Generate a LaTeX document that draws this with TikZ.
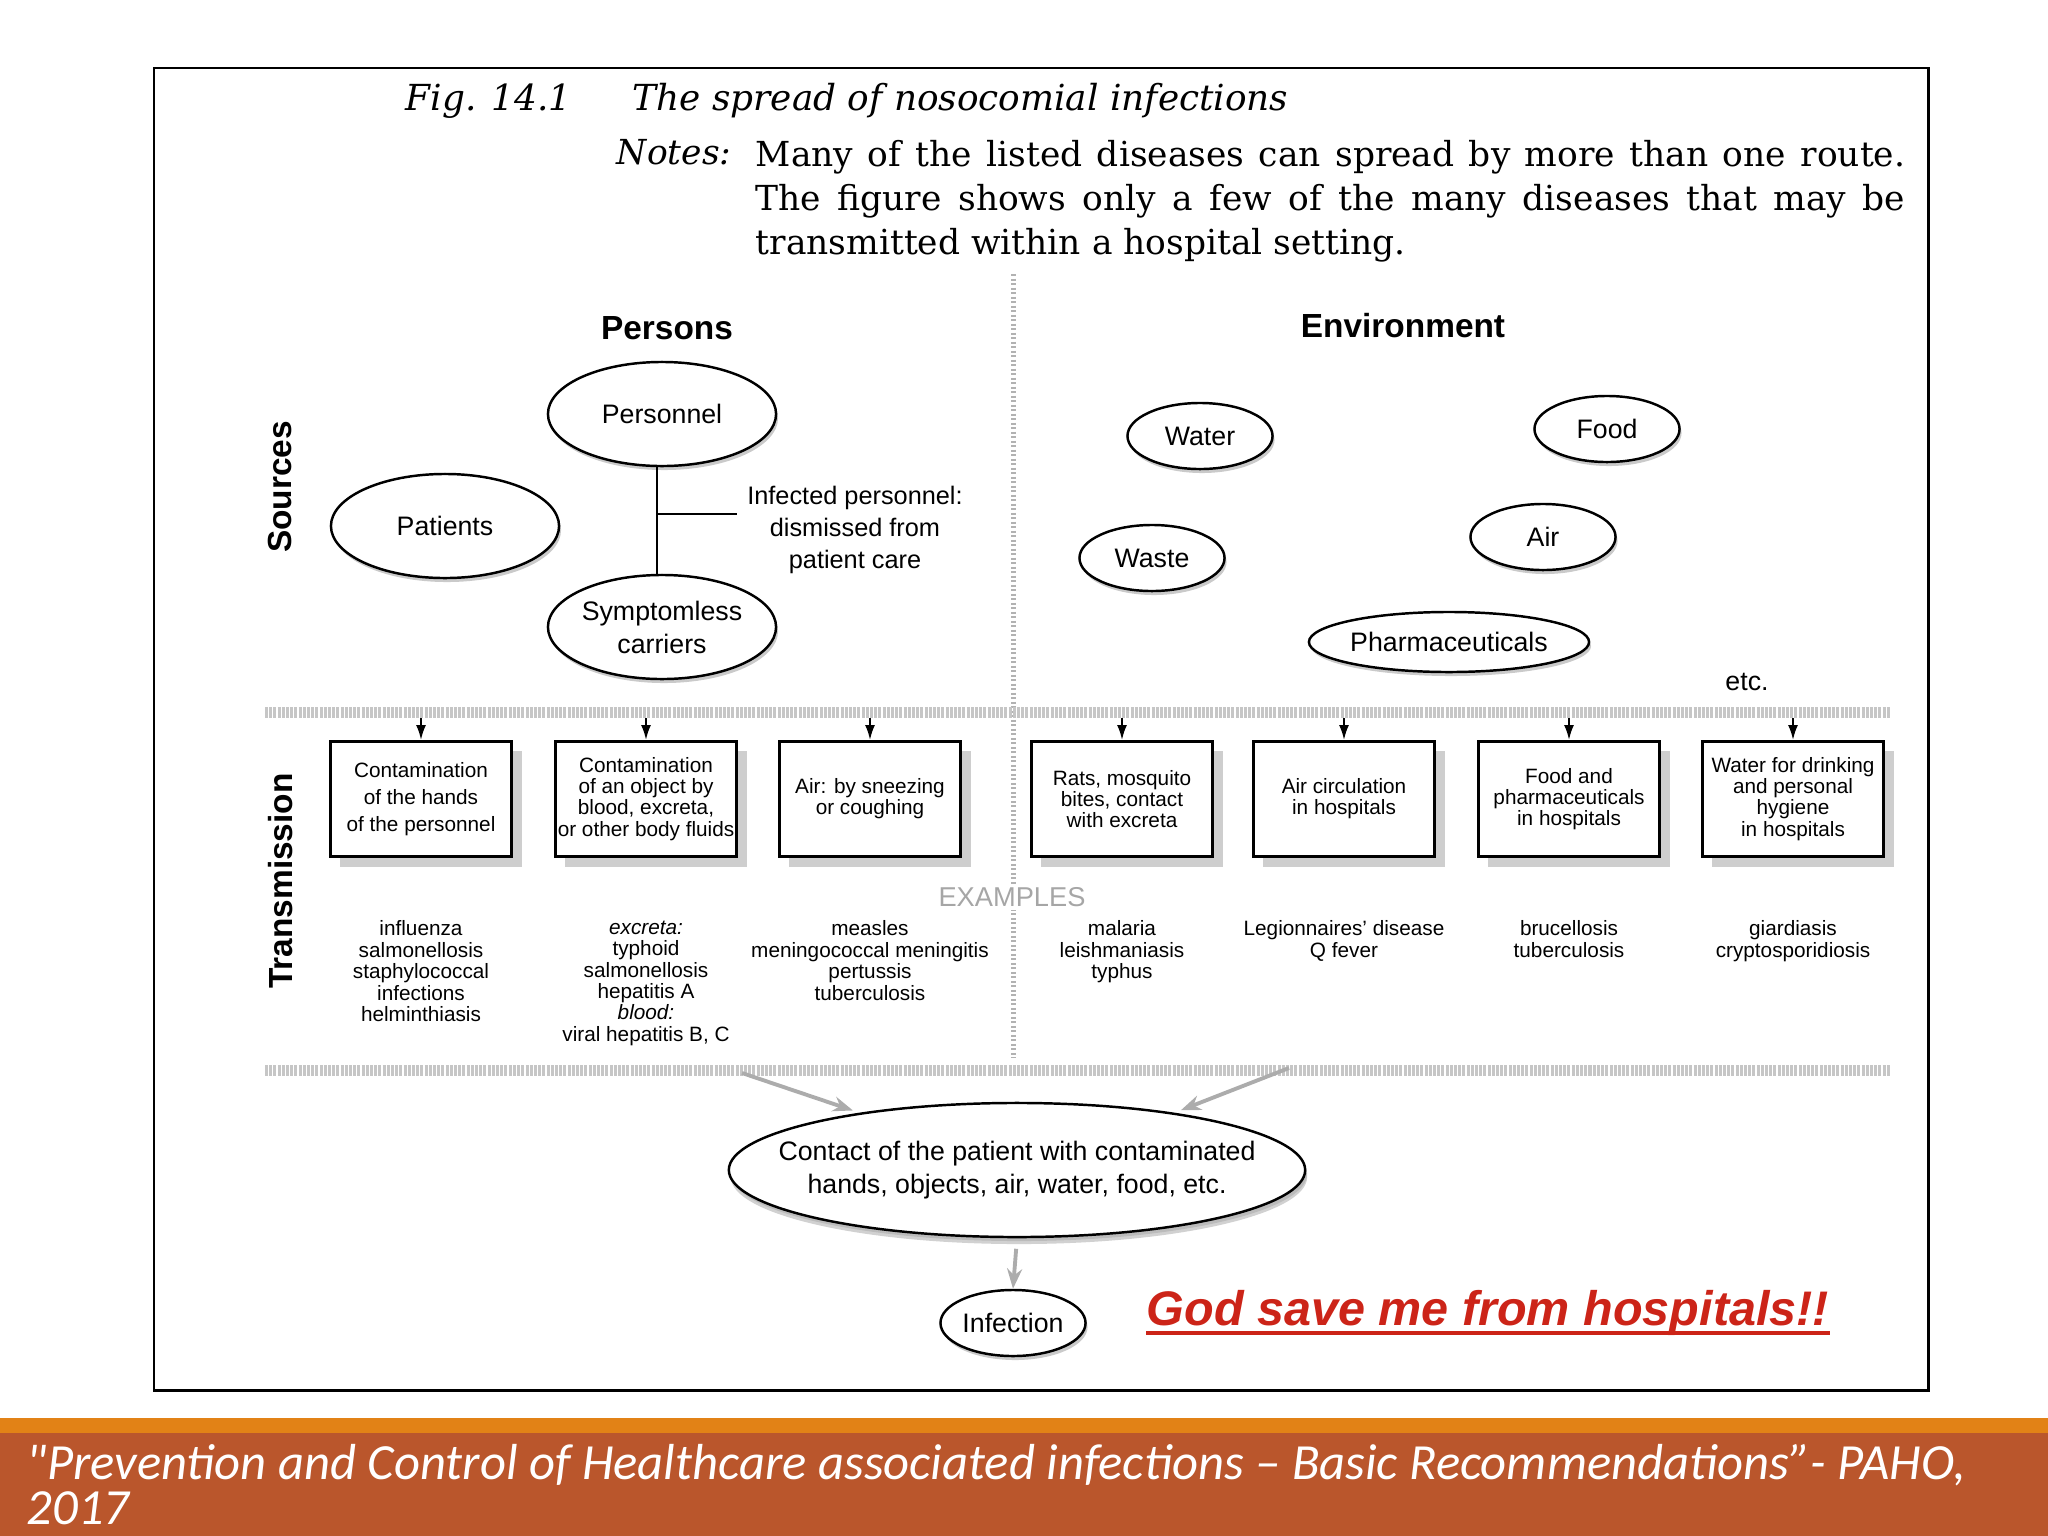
\documentclass[tikz,border=0pt]{standalone}
\usepackage{fontspec}
\usepackage{xcolor}
\usepackage{tikz}
\usetikzlibrary{arrows.meta,positioning,calc,shapes.geometric,shadows}

\newfontfamily\figfont{Liberation Sans}
\newfontfamily\notefont{DejaVu Serif}
\newfontfamily\capfont{Carlito}

\definecolor{bandorange}{RGB}{226,130,22}
\definecolor{bandbrown}{RGB}{186,86,44}
\definecolor{godred}{RGB}{204,36,24}

\tikzset{
  srcbig/.style={ellipse, draw, fill=white, line width=0.7pt, inner sep=0pt,
    minimum width=2.28cm, minimum height=1.04cm, align=center,
    font={\figfont\fontsize{7.6}{9.4}\selectfont},
    drop shadow={shadow xshift=0.02cm, shadow yshift=-0.04cm, fill=gray!70, opacity=0.6}},
  srcsmall/.style={srcbig, minimum width=1.45cm, minimum height=0.66cm},
  tbox/.style={rectangle, draw, fill=white, line width=0.8pt, inner sep=0pt,
    minimum width=1.81cm, minimum height=1.15cm, align=center,
    font={\figfont\fontsize{5.9}{6}\selectfont},
    drop shadow={shadow xshift=0.1cm, shadow yshift=-0.1cm, fill=gray!55, opacity=0.7}},
  example/.style={anchor=north, inner sep=0pt, align=center,
    font={\figfont\fontsize{5.9}{6.1}\selectfont}},
  heading/.style={inner sep=0pt, font={\figfont\bfseries\fontsize{9.5}{11}\selectfont}},
  note/.style={inner sep=0.1cm, align=center, font={\figfont\fontsize{7.2}{9.1}\selectfont}},
  band/.style={line width=0.11cm, gray!45, dash pattern=on 0.03cm off 0.012cm},
  divider/.style={line width=0.05cm, gray!60, dash pattern=on 0.02cm off 0.025cm},
  feed/.style={-{Latex[length=0.15cm, width=0.1cm]}, line width=0.6pt},
  flow/.style={-{Stealth[open, length=0.2cm, width=0.15cm]}, gray!65, line width=1.1pt},
}

\begin{document}
\begin{tikzpicture}[x=0.01cm, y=-0.01cm]
  \useasboundingbox (0,0) rectangle (2048,1536);

  % footer band
  \fill[bandorange] (0,1418) rectangle (2048,1433);
  \fill[bandbrown] (0,1433) rectangle (2048,1536);
  \node[anchor=north west, inner sep=0pt, align=left, text=white,
    font={\capfont\itshape\fontsize{14.4}{12.6}\selectfont}] (cite) at (26,1444)
    {"Prevention and Control of Healthcare associated infections – Basic Recommendations”- PAHO,\\2017};

  % figure frame and heading
  \draw[line width=0.85pt] (154,68) rectangle (1928,1390);
  \node[anchor=base west, inner sep=0pt, font={\notefont\itshape\fontsize{10.2}{12}\selectfont}] (fignum) at (405,110) {Fig. 14.1};
  \node[anchor=base west, inner sep=0pt, font={\notefont\itshape\fontsize{10.2}{12}\selectfont}] (figtitle) at (632,110) {The spread of nosocomial infections};
  \node[anchor=base east, inner sep=0pt, font={\notefont\itshape\fontsize{9.8}{12.4}\selectfont}] (notes) at (732,164) {Notes:};
  \node[anchor=north west, inner sep=0pt, text width=11.49cm, align=justify,
    font={\notefont\fontsize{9.8}{12.4}\selectfont}] (notetext) at (755,140)
    {Many of the listed diseases can spread by more than one route.\linebreak
     The figure shows only a few of the many diseases that may be\linebreak
     transmitted within a hospital setting.};

  % separators
  \draw[divider] (1013,274) -- (1013,1058);
  \draw[band] (265,712) -- (1890,712);
  \draw[band] (265,1070) -- (1890,1070);

  % side and column headings
  \node[heading, anchor=base] (persons) at (667,339) {Persons};
  \node[heading, anchor=base] (environment) at (1403,337) {Environment};
  \node[heading, rotate=90] (sources) at (280,487) {Sources};
  \node[heading, rotate=90] (transmission) at (281,881) {Transmission};

  % sources
  \node[srcbig] (personnel) at (662,414) {Personnel};
  \node[srcbig] (patients) at (445,526) {Patients};
  \node[srcbig] (carriers) at (662,627) {Symptomless\\carriers};
  \node[note] (dismissed) at (855,530) {Infected personnel:\\dismissed from\\patient care};
  \coordinate (branch) at (657,514);
  \draw[line width=0.7pt] (personnel.south -| branch) -- (carriers.north -| branch);
  \draw[line width=0.7pt] (branch) -- (branch -| dismissed.west);

  \node[srcsmall] (water) at (1200,436) {Water};
  \node[srcsmall] (food) at (1607,429) {Food};
  \node[srcsmall] (waste) at (1152,558) {Waste};
  \node[srcsmall] (air) at (1543,537) {Air};
  \node[srcsmall, minimum width=2.8cm, minimum height=0.6cm] (pharma) at (1449,642) {Pharmaceuticals};
  \node[note, font={\figfont\fontsize{7.6}{9}\selectfont}] (etc) at (1747,682) {etc.};

  % transmission routes and examples
  \foreach \x/\name/\txt/\ex in {
      421/hands/{Contamination\\[1.6pt]of the hands\\[1.6pt]of the personnel}/{influenza\\salmonellosis\\staphylococcal\\infections\\helminthiasis},
      646/object/{Contamination\\of an object by\\blood, excreta,\\or other body fluids}/{\textit{excreta:}\\typhoid\\salmonellosis\\hepatitis A\\\textit{blood:}\\viral hepatitis B, C},
      870/sneeze/{Air: by sneezing\\or coughing}/{measles\\meningococcal meningitis\\pertussis\\tuberculosis},
      1122/rats/{Rats, mosquito\\bites, contact\\with excreta}/{malaria\\leishmaniasis\\typhus},
      1344/aircirc/{Air circulation\\in hospitals}/{Legionnaires’ disease\\Q fever},
      1569/foodpharma/{Food and\\pharmaceuticals\\in hospitals}/{brucellosis\\tuberculosis},
      1793/drinking/{Water for drinking\\and personal\\hygiene\\in hospitals}/{giardiasis\\cryptosporidiosis}} {
    \coordinate (in-\name) at (\x,718);
    \node[tbox] (\name) at (\x,799) {\txt};
    \draw[feed] (in-\name) -- (\name.north);
    \node[example] (ex-\name) at (\x,920) {\ex};
  }
  \node[fill=white, inner sep=1pt, text=gray!70,
    font={\figfont\fontsize{7.75}{9}\selectfont}] (examples) at (1012,897) {EXAMPLES};

  % contact and infection
  \node[srcbig, inner xsep=-0.5cm, minimum width=5.76cm, minimum height=1.34cm,
    drop shadow={shadow xshift=0.02cm, shadow yshift=-0.07cm, fill=gray!60, opacity=0.6}] (contact) at (1017,1170)
    {Contact of the patient with contaminated\\hands, objects, air, water, food, etc.};
  \node[srcsmall] (infection) at (1013,1323) {Infection};
  \coordinate (from-left) at (742,1073);
  \coordinate (from-right) at (1289,1068);
  \draw[flow, shorten >=2pt] (from-left) -- (contact.160);
  \draw[flow, shorten >=2pt] (from-right) -- (contact.20);
  \draw[flow, shorten <=3pt] (contact.south) -- (infection.north);

  \node[anchor=base west, inner sep=0pt, text=godred,
    font={\figfont\bfseries\itshape\fontsize{13.8}{16}\selectfont}] (god) at (1146,1325) {God save me from hospitals!!};
  \draw[godred, line width=0.95pt] ([yshift=-0.08cm]god.base west) -- ([yshift=-0.08cm]god.base east);
\end{tikzpicture}
\end{document}
